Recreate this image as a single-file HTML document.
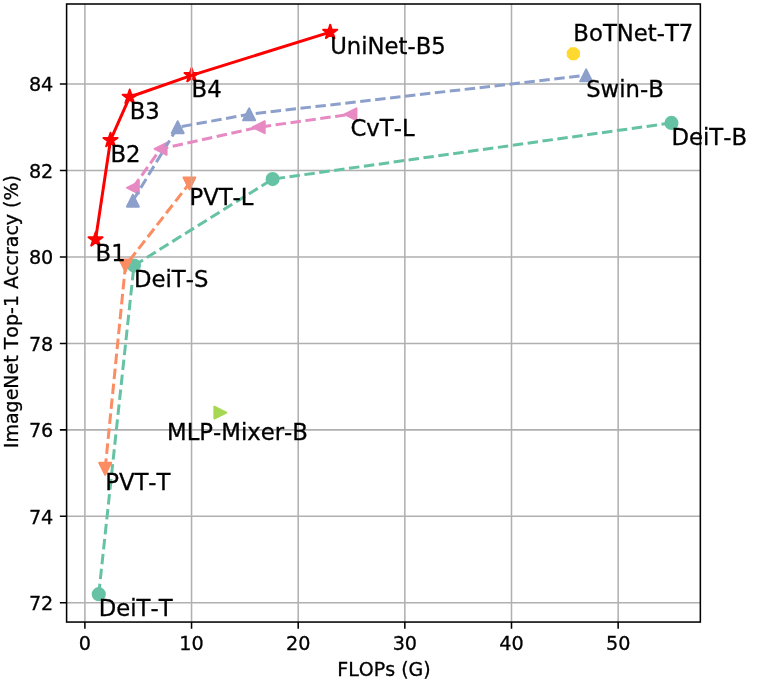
<!DOCTYPE html><html><head><meta charset="utf-8"><title>plot</title><style>html,body{margin:0;padding:0;background:#fff}svg{display:block}text{font-family:"DejaVu Sans","Liberation Sans",sans-serif;fill:#000;stroke:#000;stroke-width:0.3px;font-kerning:none;font-variant-ligatures:none}</style></head><body>
<svg width="761" height="684" viewBox="0 0 761 684">
<rect width="761" height="684" fill="#fff"/>
<path d="M84.90 622.05 v6.74 M191.55 622.05 v6.74 M298.20 622.05 v6.74 M404.85 622.05 v6.74 M511.50 622.05 v6.74 M618.15 622.05 v6.74 M66.6 602.80 h-6.74 M66.6 516.33 h-6.74 M66.6 429.86 h-6.74 M66.6 343.40 h-6.74 M66.6 256.93 h-6.74 M66.6 170.47 h-6.74 M66.6 84.00 h-6.74" stroke="#000" stroke-width="1.540" fill="none"/>
<clipPath id="c"><rect x="66.6" y="4.0" width="633.75" height="618.05"/></clipPath>
<g clip-path="url(#c)">
<circle cx="98.76" cy="594.15" r="6.10" fill="#66c2a5" stroke="#66c2a5" stroke-width="1.925"/>
<circle cx="133.96" cy="265.58" r="6.10" fill="#66c2a5" stroke="#66c2a5" stroke-width="1.925"/>
<circle cx="272.60" cy="179.11" r="6.10" fill="#66c2a5" stroke="#66c2a5" stroke-width="1.925"/>
<circle cx="671.47" cy="122.91" r="6.10" fill="#66c2a5" stroke="#66c2a5" stroke-width="1.925"/>
<polygon points="105.16,474.79 99.14,462.75 111.18,462.75" fill="#fc8d62" stroke="#fc8d62" stroke-width="1.925" stroke-linejoin="round" stroke-miterlimit="10"/>
<polygon points="125.43,271.60 119.41,259.56 131.45,259.56" fill="#fc8d62" stroke="#fc8d62" stroke-width="1.925" stroke-linejoin="round" stroke-miterlimit="10"/>
<polygon points="189.42,189.46 183.40,177.42 195.44,177.42" fill="#fc8d62" stroke="#fc8d62" stroke-width="1.925" stroke-linejoin="round" stroke-miterlimit="10"/>
<polygon points="132.89,194.71 126.87,206.75 138.91,206.75" fill="#8da0cb" stroke="#8da0cb" stroke-width="1.925" stroke-linejoin="round" stroke-miterlimit="10"/>
<polygon points="177.69,121.21 171.67,133.25 183.71,133.25" fill="#8da0cb" stroke="#8da0cb" stroke-width="1.925" stroke-linejoin="round" stroke-miterlimit="10"/>
<polygon points="249.14,108.24 243.12,120.28 255.16,120.28" fill="#8da0cb" stroke="#8da0cb" stroke-width="1.925" stroke-linejoin="round" stroke-miterlimit="10"/>
<polygon points="586.15,69.33 580.13,81.37 592.17,81.37" fill="#8da0cb" stroke="#8da0cb" stroke-width="1.925" stroke-linejoin="round" stroke-miterlimit="10"/>
<polygon points="126.87,187.76 138.91,181.74 138.91,193.78" fill="#e78ac3" stroke="#e78ac3" stroke-width="1.925" stroke-linejoin="round" stroke-miterlimit="10"/>
<polygon points="154.60,148.85 166.64,142.83 166.64,154.87" fill="#e78ac3" stroke="#e78ac3" stroke-width="1.925" stroke-linejoin="round" stroke-miterlimit="10"/>
<polygon points="252.72,127.23 264.76,121.21 264.76,133.25" fill="#e78ac3" stroke="#e78ac3" stroke-width="1.925" stroke-linejoin="round" stroke-miterlimit="10"/>
<polygon points="344.44,114.26 356.48,108.24 356.48,120.28" fill="#e78ac3" stroke="#e78ac3" stroke-width="1.925" stroke-linejoin="round" stroke-miterlimit="10"/>
<polygon points="226.37,412.57 214.33,406.55 214.33,418.59" fill="#a6d854" stroke="#a6d854" stroke-width="1.925" stroke-linejoin="round" stroke-miterlimit="10"/>
<polygon points="578.99,56.07 575.69,59.37 571.02,59.37 567.72,56.07 567.72,51.40 571.02,48.10 575.69,48.10 578.99,51.40" fill="#ffd92f" stroke="#ffd92f" stroke-width="1.925" stroke-linejoin="round" stroke-miterlimit="10"/>
<polygon points="95.56,232.18 93.89,237.33 88.47,237.33 92.86,240.52 91.18,245.67 95.56,242.49 99.95,245.67 98.27,240.52 102.66,237.33 97.24,237.33" fill="#ff0000" stroke="#ff0000" stroke-width="1.925" stroke-linejoin="round" stroke-miterlimit="10"/>
<polygon points="110.50,132.75 108.82,137.90 103.41,137.90 107.79,141.08 106.11,146.23 110.50,143.05 114.88,146.23 113.20,141.08 117.59,137.90 112.17,137.90" fill="#ff0000" stroke="#ff0000" stroke-width="1.925" stroke-linejoin="round" stroke-miterlimit="10"/>
<polygon points="129.69,89.51 128.02,94.67 122.60,94.67 126.98,97.85 125.31,103.00 129.69,99.82 134.08,103.00 132.40,97.85 136.78,94.67 131.37,94.67" fill="#ff0000" stroke="#ff0000" stroke-width="1.925" stroke-linejoin="round" stroke-miterlimit="10"/>
<polygon points="191.55,67.90 189.88,73.05 184.46,73.05 188.84,76.23 187.17,81.39 191.55,78.20 195.93,81.39 194.26,76.23 198.64,73.05 193.22,73.05" fill="#ff0000" stroke="#ff0000" stroke-width="1.925" stroke-linejoin="round" stroke-miterlimit="10"/>
<polygon points="330.19,24.66 328.52,29.82 323.10,29.82 327.49,33.00 325.81,38.15 330.19,34.97 334.58,38.15 332.90,33.00 337.29,29.82 331.87,29.82" fill="#ff0000" stroke="#ff0000" stroke-width="1.925" stroke-linejoin="round" stroke-miterlimit="10"/>
</g>
<path d="M84.90 4.0 V622.05 M191.55 4.0 V622.05 M298.20 4.0 V622.05 M404.85 4.0 V622.05 M511.50 4.0 V622.05 M618.15 4.0 V622.05 M66.6 602.80 H700.35 M66.6 516.33 H700.35 M66.6 429.86 H700.35 M66.6 343.40 H700.35 M66.6 256.93 H700.35 M66.6 170.47 H700.35 M66.6 84.00 H700.35" stroke="#b0b0b0" stroke-width="1.540" fill="none"/>
<g clip-path="url(#c)">
<polyline points="98.76,594.15 133.96,265.58 272.60,179.11 671.47,122.91" fill="none" stroke="#66c2a5" stroke-width="3.000" stroke-linejoin="round" stroke-dasharray="10.491 4.536"/>
<polyline points="105.16,468.77 125.43,265.58 189.42,183.44" fill="none" stroke="#fc8d62" stroke-width="3.000" stroke-linejoin="round" stroke-dasharray="10.491 4.536"/>
<polyline points="132.89,200.73 177.69,127.23 249.14,114.26 586.15,75.35" fill="none" stroke="#8da0cb" stroke-width="3.000" stroke-linejoin="round" stroke-dasharray="10.491 4.536"/>
<polyline points="132.89,187.76 160.62,148.85 258.74,127.23 350.46,114.26" fill="none" stroke="#e78ac3" stroke-width="3.000" stroke-linejoin="round" stroke-dasharray="10.491 4.536"/>
<polyline points="95.56,239.64 110.50,140.20 129.69,96.97 191.55,75.35 330.19,32.12" fill="none" stroke="#ff0000" stroke-width="3.000" stroke-linejoin="round"/>
</g>
<rect x="66.6" y="4.0" width="633.75" height="618.05" fill="none" stroke="#000" stroke-width="1.540"/>
<text x="84.90" y="650.1" font-size="19.20" text-anchor="middle">0</text>
<text x="191.55" y="650.1" font-size="19.20" text-anchor="middle">10</text>
<text x="298.20" y="650.1" font-size="19.20" text-anchor="middle">20</text>
<text x="404.85" y="650.1" font-size="19.20" text-anchor="middle">30</text>
<text x="511.50" y="650.1" font-size="19.20" text-anchor="middle">40</text>
<text x="618.15" y="650.1" font-size="19.20" text-anchor="middle">50</text>
<text x="53.3" y="610" font-size="19.20" text-anchor="end">72</text>
<text x="53.3" y="524" font-size="19.20" text-anchor="end">74</text>
<text x="53.3" y="437" font-size="19.20" text-anchor="end">76</text>
<text x="53.3" y="351" font-size="19.20" text-anchor="end">78</text>
<text x="53.3" y="264" font-size="19.20" text-anchor="end">80</text>
<text x="53.3" y="178" font-size="19.20" text-anchor="end">82</text>
<text x="53.3" y="91" font-size="19.20" text-anchor="end">84</text>
<text x="383.98" y="676.3" font-size="19.0" text-anchor="middle">FLOPs (G)</text>
<text transform="translate(18.0 311.57) rotate(-90)" font-size="19.0" text-anchor="middle">ImageNet Top-1 Accracy (%)</text>
<text transform="translate(95.56 261.26)" font-size="22.75">B1</text>
<text transform="translate(110.50 161.82)" font-size="22.75">B2</text>
<text transform="translate(129.69 118.59)" font-size="22.75">B3</text>
<text transform="translate(191.55 96.97)" font-size="22.75">B4</text>
<text transform="translate(330.19 53.74)" font-size="22.75">UniNet-B5</text>
<text transform="translate(586.15 96.97)" font-size="22.75">Swin-B</text>
<text transform="translate(350.46 135.88)" font-size="22.75">CvT-L</text>
<text transform="translate(189.42 205.05)" font-size="22.75">PVT-L</text>
<text transform="translate(105.16 490.39)" font-size="22.75">PVT-T</text>
<text transform="translate(671.47 144.53)" font-size="22.75">DeiT-B</text>
<text transform="translate(133.96 287.20)" font-size="22.75">DeiT-S</text>
<text transform="translate(98.76 615.77)" font-size="22.75">DeiT-T</text>
<text transform="translate(573.36 40.77)" font-size="22.75">BoTNet-T7</text>
<text transform="translate(167.02 439.81)" font-size="22.75">MLP-Mixer-B</text>
</svg></body></html>
